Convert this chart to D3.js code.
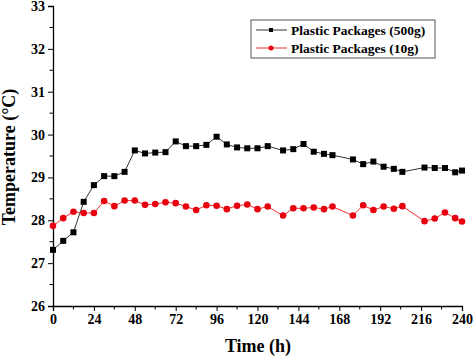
<!DOCTYPE html>
<html>
<head>
<meta charset="utf-8">
<script src="https://cdn.jsdelivr.net/npm/d3@7"></script>
<style>
body { margin: 0; background: #fff; }
svg { display: block; }
text { font-family: "Liberation Serif", "Times New Roman", serif; font-weight: bold; }
</style>
</head>
<body>
<svg width="474" height="359"></svg>
<script>
// sampling times (h)
var hours = [0, 6, 12, 18, 24, 30, 36, 42, 48, 54, 60, 66, 72, 78, 84, 90, 96, 102, 108, 114, 120, 126,
	135, 141, 147, 153, 159, 164, 176, 182, 188, 194, 200, 205, 218, 224, 230, 236, 240];

var temp500 = [27.31, 27.52, 27.72, 28.43, 28.82, 29.03, 29.03, 29.13, 29.63, 29.56, 29.58, 29.59, 29.84, 29.73,
	29.73, 29.76, 29.95, 29.77, 29.70, 29.68, 29.68, 29.73, 29.63, 29.66, 29.78, 29.60, 29.55, 29.52,
	29.42, 29.31, 29.37, 29.25, 29.20, 29.13, 29.23, 29.22, 29.22, 29.12, 29.16];

var temp10 = [27.87, 28.05, 28.20, 28.17, 28.17, 28.45, 28.33, 28.46, 28.46, 28.36, 28.38, 28.42, 28.40, 28.32,
	28.24, 28.35, 28.34, 28.26, 28.34, 28.37, 28.26, 28.32, 28.11, 28.28, 28.28, 28.30, 28.26, 28.32,
	28.11, 28.35, 28.24, 28.32, 28.27, 28.33, 27.98, 28.04, 28.18, 28.05, 27.97];

var xTicks = [0, 24, 48, 72, 96, 120, 144, 168, 192, 216, 240];
var yTicks = [26, 27, 28, 29, 30, 31, 32, 33];
var seriesNames = ['Plastic Packages (500g)', 'Plastic Packages (10g)'];

var svg = d3.select('svg');
var plotL = 53, plotR = 462, plotT = 6, plotB = 306;

var x = d3.scaleLinear().domain([0, 240]).range([plotL, plotR]);
var y = d3.scaleLinear().domain([26, 33]).range([plotB, plotT]);

// minor ticks
var minorX = d3.range(12, 240, 24);
var minorY = d3.range(26.5, 33, 1);

var gx = svg.append('g').attr('transform', 'translate(0,' + plotB + ')');
gx.call(d3.axisBottom(x).tickValues(xTicks).tickSize(5).tickPadding(3).tickFormat(d3.format('d')));
gx.selectAll('.minor').data(minorX).enter().append('line')
	.attr('x1', function(d){ return x(d); }).attr('x2', function(d){ return x(d); })
	.attr('y1', 0).attr('y2', 3.5).attr('stroke', '#000');

var gy = svg.append('g').attr('transform', 'translate(' + plotL + ',0)');
gy.call(d3.axisLeft(y).tickValues(yTicks).tickSize(5).tickPadding(3).tickFormat(d3.format('d')));
gy.selectAll('.minor').data(minorY).enter().append('line')
	.attr('y1', function(d){ return y(d); }).attr('y2', function(d){ return y(d); })
	.attr('x1', 0).attr('x2', -3.5).attr('stroke', '#000');

svg.selectAll('.domain').attr('stroke', '#000').attr('stroke-width', 1.3);
svg.selectAll('.tick line').attr('stroke', '#000');
svg.selectAll('.tick text').attr('font-size', 14).attr('fill', '#000')
	.attr('font-family', '"Liberation Serif", serif').attr('font-weight', 'bold');

// axis titles
svg.append('text').attr('x', 258).attr('y', 352).attr('text-anchor', 'middle')
	.attr('font-size', 18).text('Time (h)');
svg.append('text').attr('transform', 'translate(15,157) rotate(-90)').attr('text-anchor', 'middle')
	.attr('font-size', 18).text('Temperature (\u00B0C)');

// lines + markers
var line = d3.line().x(function(d){ return x(d[0]); }).y(function(d){ return y(d[1]); });
var pts500 = hours.map(function(h, i){ return [h, temp500[i]]; });
var pts10 = hours.map(function(h, i){ return [h, temp10[i]]; });

svg.append('path').datum(pts500).attr('d', line).attr('fill', 'none').attr('stroke', '#333').attr('stroke-width', 1);
svg.append('path').datum(pts10).attr('d', line).attr('fill', 'none').attr('stroke', '#f03030').attr('stroke-width', 1);

svg.selectAll('.sq').data(pts500).enter().append('rect')
	.attr('x', function(d){ return x(d[0]) - 3; }).attr('y', function(d){ return y(d[1]) - 3; })
	.attr('width', 6).attr('height', 6).attr('fill', '#000');
svg.selectAll('.dot').data(pts10).enter().append('circle')
	.attr('cx', function(d){ return x(d[0]); }).attr('cy', function(d){ return y(d[1]); })
	.attr('r', 3.3).attr('fill', '#e8000f');

// legend
var lg = svg.append('g');
lg.append('rect').attr('x', 251).attr('y', 20).attr('width', 184).attr('height', 38)
	.attr('fill', '#fff').attr('stroke', '#555').attr('stroke-width', 1);
lg.append('line').attr('x1', 256).attr('x2', 287).attr('y1', 30).attr('y2', 30).attr('stroke', '#333');
lg.append('rect').attr('x', 269).attr('y', 28).attr('width', 4).attr('height', 4).attr('fill', '#000');
lg.append('line').attr('x1', 256).attr('x2', 287).attr('y1', 48).attr('y2', 48).attr('stroke', '#f03030');
lg.append('circle').attr('cx', 271).attr('cy', 48).attr('r', 2.5).attr('fill', '#e8000f');
lg.selectAll('.lt').data(seriesNames).enter().append('text')
	.attr('x', 291).attr('y', function(d, i){ return 34.5 + i * 18; })
	.attr('font-size', 13.5).attr('fill', '#000').text(function(d){ return d; });
</script>
</body>
</html>
